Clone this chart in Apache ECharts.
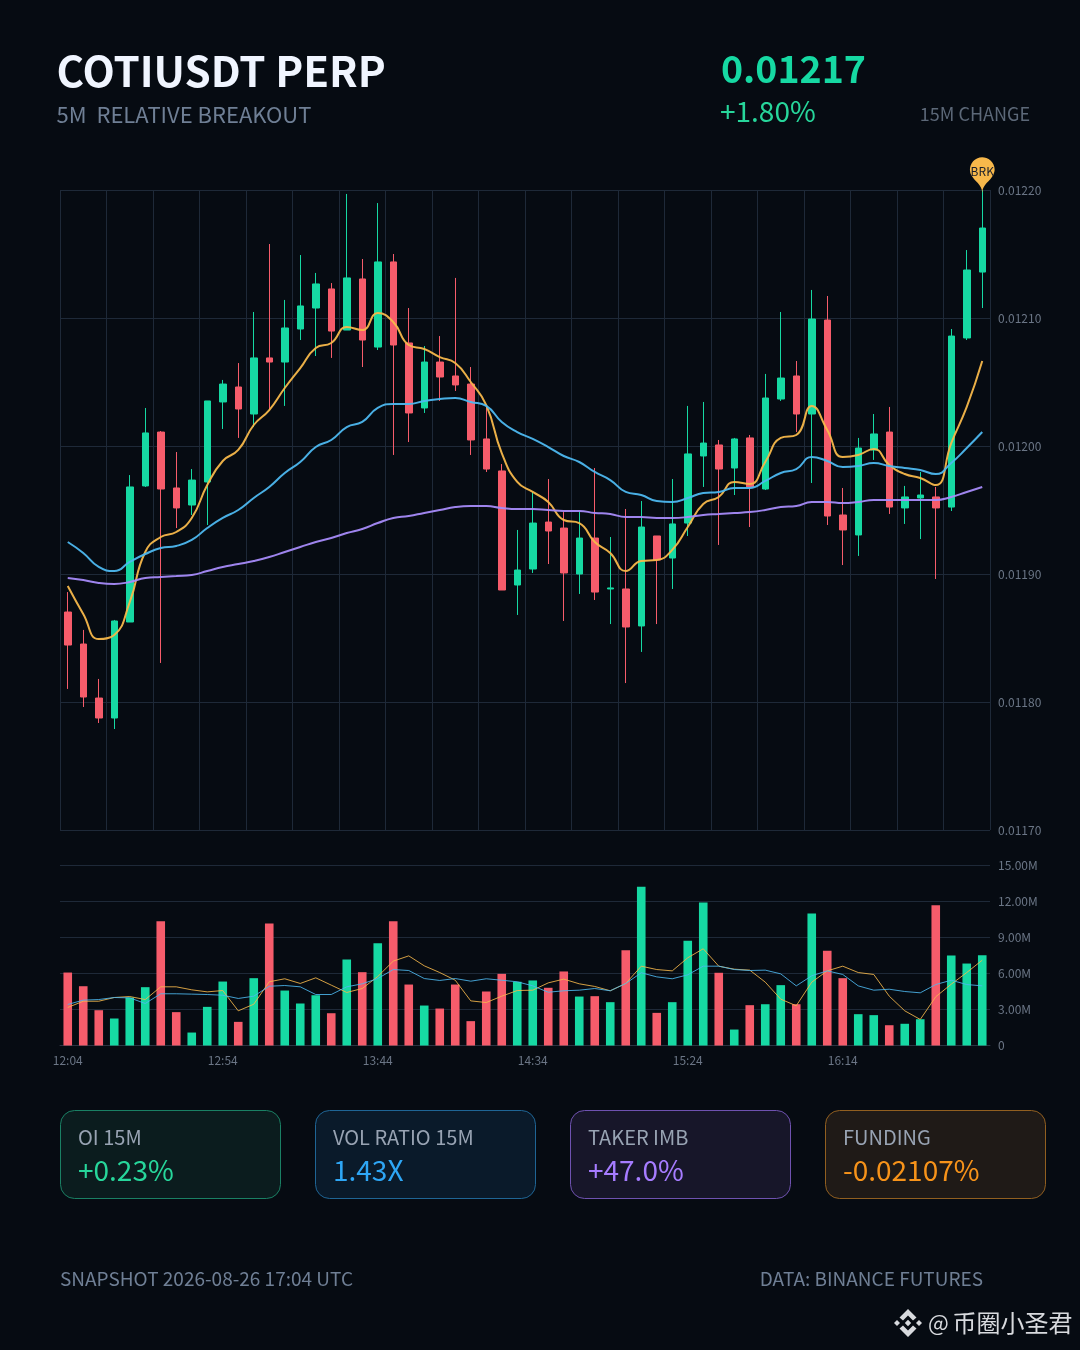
<!DOCTYPE html>
<html><head><meta charset="utf-8">
<style>html,body{margin:0;padding:0;background:#060b12}#c{width:1080px;height:1350px}</style>
<script src="https://cdn.jsdelivr.net/npm/echarts@6/dist/echarts.min.js"></script>
</head><body><div id="c"></div>
<script>
var opens=[0.0118703,0.0118453,0.0118031,0.0117875,0.0118625,0.0119688,0.0120109,0.0119672,0.0119539,0.0119719,
0.0120344,0.0120461,0.0120250,0.0120688,0.0120656,0.0120914,0.0121078,0.0121227,0.0120906,0.0121305,
0.0120773,0.0121438,0.0120805,0.0120297,0.0120656,0.0120547,0.0120484,0.0120055,0.0119805,0.0118914,
0.0119039,0.0119406,0.0119359,0.0119000,0.0119281,0.0118883,0.0118883,0.0118594,0.0119297,0.0119125,
0.0119398,0.0119922,0.0120008,0.0119828,0.0120063,0.0119664,0.0120367,0.0120547,0.0120250,0.0120984,
0.0119461,0.0119305,0.0119969,0.0120109,0.0119516,0.0119594,0.0119602,0.0119523,0.0120844,0.0121359];
var closes=[0.0118445,0.0118039,0.0117875,0.0118633,0.0119680,0.0120102,0.0119664,0.0119516,0.0119734,0.0120352,
0.0120484,0.0120289,0.0120688,0.0120656,0.0120922,0.0121094,0.0121266,0.0120898,0.0121313,0.0120828,
0.0121438,0.0120789,0.0120258,0.0120656,0.0120539,0.0120477,0.0120047,0.0119820,0.0118875,0.0119031,
0.0119398,0.0119336,0.0119008,0.0119281,0.0118859,0.0118891,0.0118586,0.0119367,0.0119109,0.0119391,
0.0119938,0.0120023,0.0119820,0.0120055,0.0119680,0.0120375,0.0120531,0.0120250,0.0120992,0.0119453,
0.0119344,0.0119984,0.0120094,0.0119523,0.0119602,0.0119617,0.0119516,0.0120859,0.0121375,0.0121703];
var lows=[0.0118102,0.0117961,0.0117836,0.0117789,0.0118625,0.0119680,0.0118305,0.0119359,0.0119461,0.0119383,
0.0120133,0.0120063,0.0120148,0.0120281,0.0120313,0.0120828,0.0120703,0.0120688,0.0120906,0.0120617,
0.0120750,0.0119930,0.0120031,0.0120258,0.0120352,0.0120430,0.0119930,0.0119797,0.0118875,0.0118680,
0.0119008,0.0119078,0.0118633,0.0118844,0.0118797,0.0118609,0.0118148,0.0118391,0.0118609,0.0118883,
0.0119297,0.0119680,0.0119227,0.0119617,0.0119367,0.0119656,0.0120352,0.0120109,0.0119711,0.0119383,
0.0119070,0.0119141,0.0119891,0.0119469,0.0119391,0.0119273,0.0118961,0.0119492,0.0120828,0.0121078];
var highs=[0.0118859,0.0118563,0.0118180,0.0118641,0.0119773,0.0120297,0.0120117,0.0119953,0.0119820,0.0120352,
0.0120516,0.0120648,0.0121047,0.0121578,0.0121141,0.0121492,0.0121352,0.0121273,0.0121969,0.0121461,
0.0121898,0.0121500,0.0121078,0.0120781,0.0120859,0.0121313,0.0120617,0.0120305,0.0119859,0.0119344,
0.0119641,0.0119742,0.0119484,0.0119484,0.0119828,0.0119289,0.0119508,0.0119570,0.0119297,0.0119742,
0.0120313,0.0120344,0.0120047,0.0120063,0.0120086,0.0120563,0.0121047,0.0120664,0.0121219,0.0121172,
0.0119672,0.0120063,0.0120250,0.0120305,0.0119688,0.0119797,0.0119680,0.0120914,0.0121531,0.0122000];
var maFast=[0.0118906,0.0118688,0.0118492,0.0118523,0.0118781,0.0119172,0.0119289,0.0119328,0.0119438,0.0119695,
0.0119883,0.0119969,0.0120164,0.0120281,0.0120453,0.0120609,0.0120766,0.0120805,0.0120930,0.0120906,
0.0121039,0.0120969,0.0120789,0.0120758,0.0120695,0.0120648,0.0120500,0.0120320,0.0119945,0.0119719,
0.0119641,0.0119563,0.0119422,0.0119398,0.0119250,0.0119164,0.0119023,0.0119102,0.0119109,0.0119188,
0.0119367,0.0119547,0.0119602,0.0119719,0.0119703,0.0119875,0.0120063,0.0120086,0.0120313,0.0120125,
0.0119914,0.0119930,0.0119977,0.0119852,0.0119781,0.0119750,0.0119695,0.0120023,0.0120305,0.0120664];
var maMid=[0.0119250,0.0119164,0.0119055,0.0119023,0.0119094,0.0119156,0.0119203,0.0119219,0.0119266,0.0119359,
0.0119438,0.0119500,0.0119594,0.0119680,0.0119789,0.0119875,0.0119992,0.0120047,0.0120148,0.0120188,
0.0120297,0.0120328,0.0120328,0.0120352,0.0120367,0.0120375,0.0120344,0.0120313,0.0120188,0.0120109,
0.0120055,0.0119992,0.0119922,0.0119875,0.0119797,0.0119734,0.0119641,0.0119617,0.0119570,0.0119563,
0.0119594,0.0119633,0.0119641,0.0119672,0.0119672,0.0119727,0.0119789,0.0119820,0.0119914,0.0119883,
0.0119836,0.0119844,0.0119867,0.0119844,0.0119828,0.0119813,0.0119781,0.0119867,0.0119984,0.0120109];
var maSlow=[0.0118969,0.0118953,0.0118930,0.0118922,0.0118938,0.0118969,0.0118977,0.0118984,0.0118992,0.0119023,
0.0119055,0.0119078,0.0119102,0.0119133,0.0119172,0.0119211,0.0119250,0.0119281,0.0119320,0.0119352,
0.0119398,0.0119438,0.0119453,0.0119477,0.0119500,0.0119523,0.0119531,0.0119531,0.0119516,0.0119508,
0.0119508,0.0119500,0.0119492,0.0119492,0.0119477,0.0119469,0.0119445,0.0119445,0.0119438,0.0119438,
0.0119445,0.0119461,0.0119469,0.0119477,0.0119484,0.0119500,0.0119523,0.0119531,0.0119563,0.0119563,
0.0119555,0.0119563,0.0119578,0.0119578,0.0119578,0.0119578,0.0119578,0.0119602,0.0119641,0.0119680];
var volumes=[6.08,4.94,2.94,2.25,4.0,4.86,10.36,2.78,1.08,3.22,5.33,1.97,5.61,10.17,4.58,3.5,4.19,2.69,7.17,6.11,
8.53,10.36,5.08,3.33,3.08,5.08,2.03,4.5,5.97,5.31,5.42,4.81,6.17,4.08,4.11,3.61,7.94,13.22,2.72,3.61,
8.72,11.92,6.06,1.33,3.36,3.44,5.03,3.44,11.0,7.89,5.61,2.61,2.53,1.69,1.81,2.19,11.69,7.5,6.83,7.53];
var volFast=[3.17,3.69,3.69,4.0,4.08,3.83,4.89,4.89,4.64,4.47,4.58,2.89,3.44,5.31,5.56,5.17,5.64,5.03,4.42,4.75,
5.75,7.03,7.47,6.64,6.08,5.44,3.72,3.58,4.11,4.58,4.61,5.22,5.53,5.14,4.92,4.56,5.17,6.61,6.33,6.22,
7.31,8.06,6.61,6.36,6.28,5.28,3.86,3.31,5.28,6.22,6.61,6.08,5.92,4.11,2.89,2.17,4.06,5.11,6.08,7.11];
var volSlow=[3.42,3.78,3.83,4.0,3.97,3.5,4.31,4.31,4.28,4.25,4.19,3.92,4.11,4.94,5.0,4.89,4.25,4.25,4.89,5.14,
5.58,6.33,6.25,5.58,5.42,5.58,5.36,5.56,5.44,5.31,4.97,4.44,4.56,4.61,4.75,4.56,5.17,6.06,5.72,5.56,
5.89,6.61,6.61,6.33,6.25,6.28,5.97,4.97,5.81,6.22,5.92,4.97,4.61,4.69,4.5,4.39,5.08,5.44,5.08,4.97];
var startMinutes=12*60+4, stepMinutes=5;
var categories=opens.map(function(_,i){var m=startMinutes+i*stepMinutes;var h=Math.floor(m/60);m=m%60;return h+':'+(m<10?'0':'')+m;});
var cards=[
 {label:'OI 15M',value:'+0.23%',color:'#27d69b',fill:'#0b1c1e',stroke:'#1a8064'},
 {label:'VOL RATIO 15M',value:'1.43X',color:'#2ea6f5',fill:'#0a1a2a',stroke:'#1f6595'},
 {label:'TAKER IMB',value:'+47.0%',color:'#a67cff',fill:'#171629',stroke:'#6f52b0'},
 {label:'FUNDING',value:'-0.02107%',color:'#f7931a',fill:'#1f1a17',stroke:'#915f20'}
];
var GREEN='#16d9a3',RED='#f65c6b',GRID='#1e2938',FONT='"Noto Sans CJK SC","Noto Sans",sans-serif';
function t(text,x,y,size,fill,extra){var s={text:text,x:x,y:y,fill:fill,font:(extra&&extra.bold?'700 ':'400 ')+size+'px '+FONT,verticalAlign:'middle',align:(extra&&extra.align)||'left'};return {type:'text',silent:true,style:s,z:20};}
function poly(pts,fill){return {type:'polygon',silent:true,shape:{points:pts},style:{fill:fill},z:20};}
var g=[
 t('COTIUSDT PERP',56.5,71,42,'#f0f5ff',{bold:true}),
 t('5M  RELATIVE BREAKOUT',56.5,115,22,'#6f7f95'),
 t('0.01217',721,69,37.5,'#16d9a3',{bold:true}),
 t('+1.80%',720,111,28,'#27d69b'),
 t('15M CHANGE',1030,114,18,'#5c6878',{align:'right'}),
 t('SNAPSHOT 2026-08-26 17:04 UTC',60,1279,19,'#6f7f95'),
 t('DATA: BINANCE FUTURES',983,1279,19,'#6f7f95',{align:'right'}),
 t('@',928,1323,22,'#d8dade'),
 t('币圈小圣君',952.5,1323,24,'#d8dade')
];
cards.forEach(function(c,i){var x=60+255*i;
 g.push({type:'rect',silent:true,shape:{x:x+.5,y:1110.5,width:220,height:88,r:14},style:{fill:c.fill,stroke:c.stroke,lineWidth:1},z:19});
 g.push(t(c.label,x+18,1137,20,'#98a3b3'));
 g.push(t(c.value,x+18,1170,28,c.color));
});
(function(){var cx=908,cy=1323,f='#d8dade';
 g.push(poly([[cx,cy-14],[cx+8.5,cy-5.5],[cx+5,cy-2.5],[cx,cy-7.5],[cx-5,cy-2.5],[cx-8.5,cy-5.5]],f));
 g.push(poly([[cx,cy+14],[cx+8.5,cy+5.5],[cx+5,cy+2.5],[cx,cy+7.5],[cx-5,cy+2.5],[cx-8.5,cy+5.5]],f));
 [[-11,3],[11,3],[0,3.2]].forEach(function(d){g.push(poly([[cx+d[0],cy-d[1]],[cx+d[0]+d[1],cy],[cx+d[0],cy+d[1]],[cx+d[0]-d[1],cy]],f));});
})();
var axisLabel={color:'#6b7686',fontSize:12,fontFamily:FONT};
var chart=echarts.init(document.getElementById('c'),null,{renderer:'canvas',width:1080,height:1350});
function ma(name,data,color,w,idx,smooth,op){return {name:name,type:'line',data:data,xAxisIndex:idx,yAxisIndex:idx,smooth:smooth,symbol:'none',lineStyle:{color:color,width:w,opacity:op},z:5,animation:false};}
chart.setOption({
 animation:false,backgroundColor:'#060b12',
 graphic:{elements:g},
 grid:[{left:60,right:90,top:190,height:640},{left:60,right:90,top:865.5,height:180}],
 xAxis:[
  {type:'category',gridIndex:0,data:categories,boundaryGap:true,axisLine:{show:false},axisTick:{show:false},axisLabel:{show:false},splitLine:{show:true,interval:2,lineStyle:{color:GRID,width:1}}},
  {type:'category',gridIndex:1,data:categories,boundaryGap:true,axisLine:{show:true,lineStyle:{color:'#2a3442',width:1}},axisTick:{show:false},axisLabel:Object.assign({},axisLabel,{fontSize:12,interval:9,margin:9}),splitLine:{show:false}}
 ],
 yAxis:[
  {type:'value',gridIndex:0,position:'right',min:0.0117,max:0.0122,interval:0.0001,scale:true,axisLine:{show:false},axisTick:{show:false},axisLabel:Object.assign({},axisLabel,{margin:8,formatter:function(v){return v.toFixed(5);}}),splitLine:{show:true,lineStyle:{color:GRID,width:1}}},
  {type:'value',gridIndex:1,position:'right',min:0,max:15,interval:3,axisLine:{show:false},axisTick:{show:false},axisLabel:Object.assign({},axisLabel,{margin:8,formatter:function(v){return v===0?'0':v.toFixed(2)+'M';}}),splitLine:{show:true,lineStyle:{color:GRID,width:1}}}
 ],
 series:[
  {name:'Price',type:'candlestick',xAxisIndex:0,yAxisIndex:0,barWidth:7,
   data:opens.map(function(o,i){return [o,closes[i],lows[i],highs[i]];}),
   itemStyle:{color:GREEN,color0:RED,borderColor:GREEN,borderColor0:RED,borderWidth:1},
   markPoint:{symbol:'pin',symbolSize:41,symbolOffset:[0,3],silent:true,animation:false,
    itemStyle:{color:'#f7b84b'},
    label:{show:true,color:'#1a1f2b',fontSize:12,fontFamily:FONT,formatter:'BRK'},
    data:[{coord:[categories[59],0.0122],value:'BRK'}]},z:3},
  ma('MA fast',maFast,'#f7b84b',2,0,true,0.95),
  ma('MA mid',maMid,'#4db8f0',2,0,true,0.95),
  ma('MA slow',maSlow,'#a78bfa',2,0,true,0.95),
  {name:'Volume',type:'bar',xAxisIndex:1,yAxisIndex:1,barWidth:8.6,
   data:volumes.map(function(v,i){return {value:v,itemStyle:{color:closes[i]>=opens[i]?GREEN:RED}};}),z:3},
  ma('Vol fast',volFast,'#f7b84b',1,1,false,0.85),
  ma('Vol slow',volSlow,'#4db8f0',1,1,false,0.85)
 ]
});
</script></body></html>
